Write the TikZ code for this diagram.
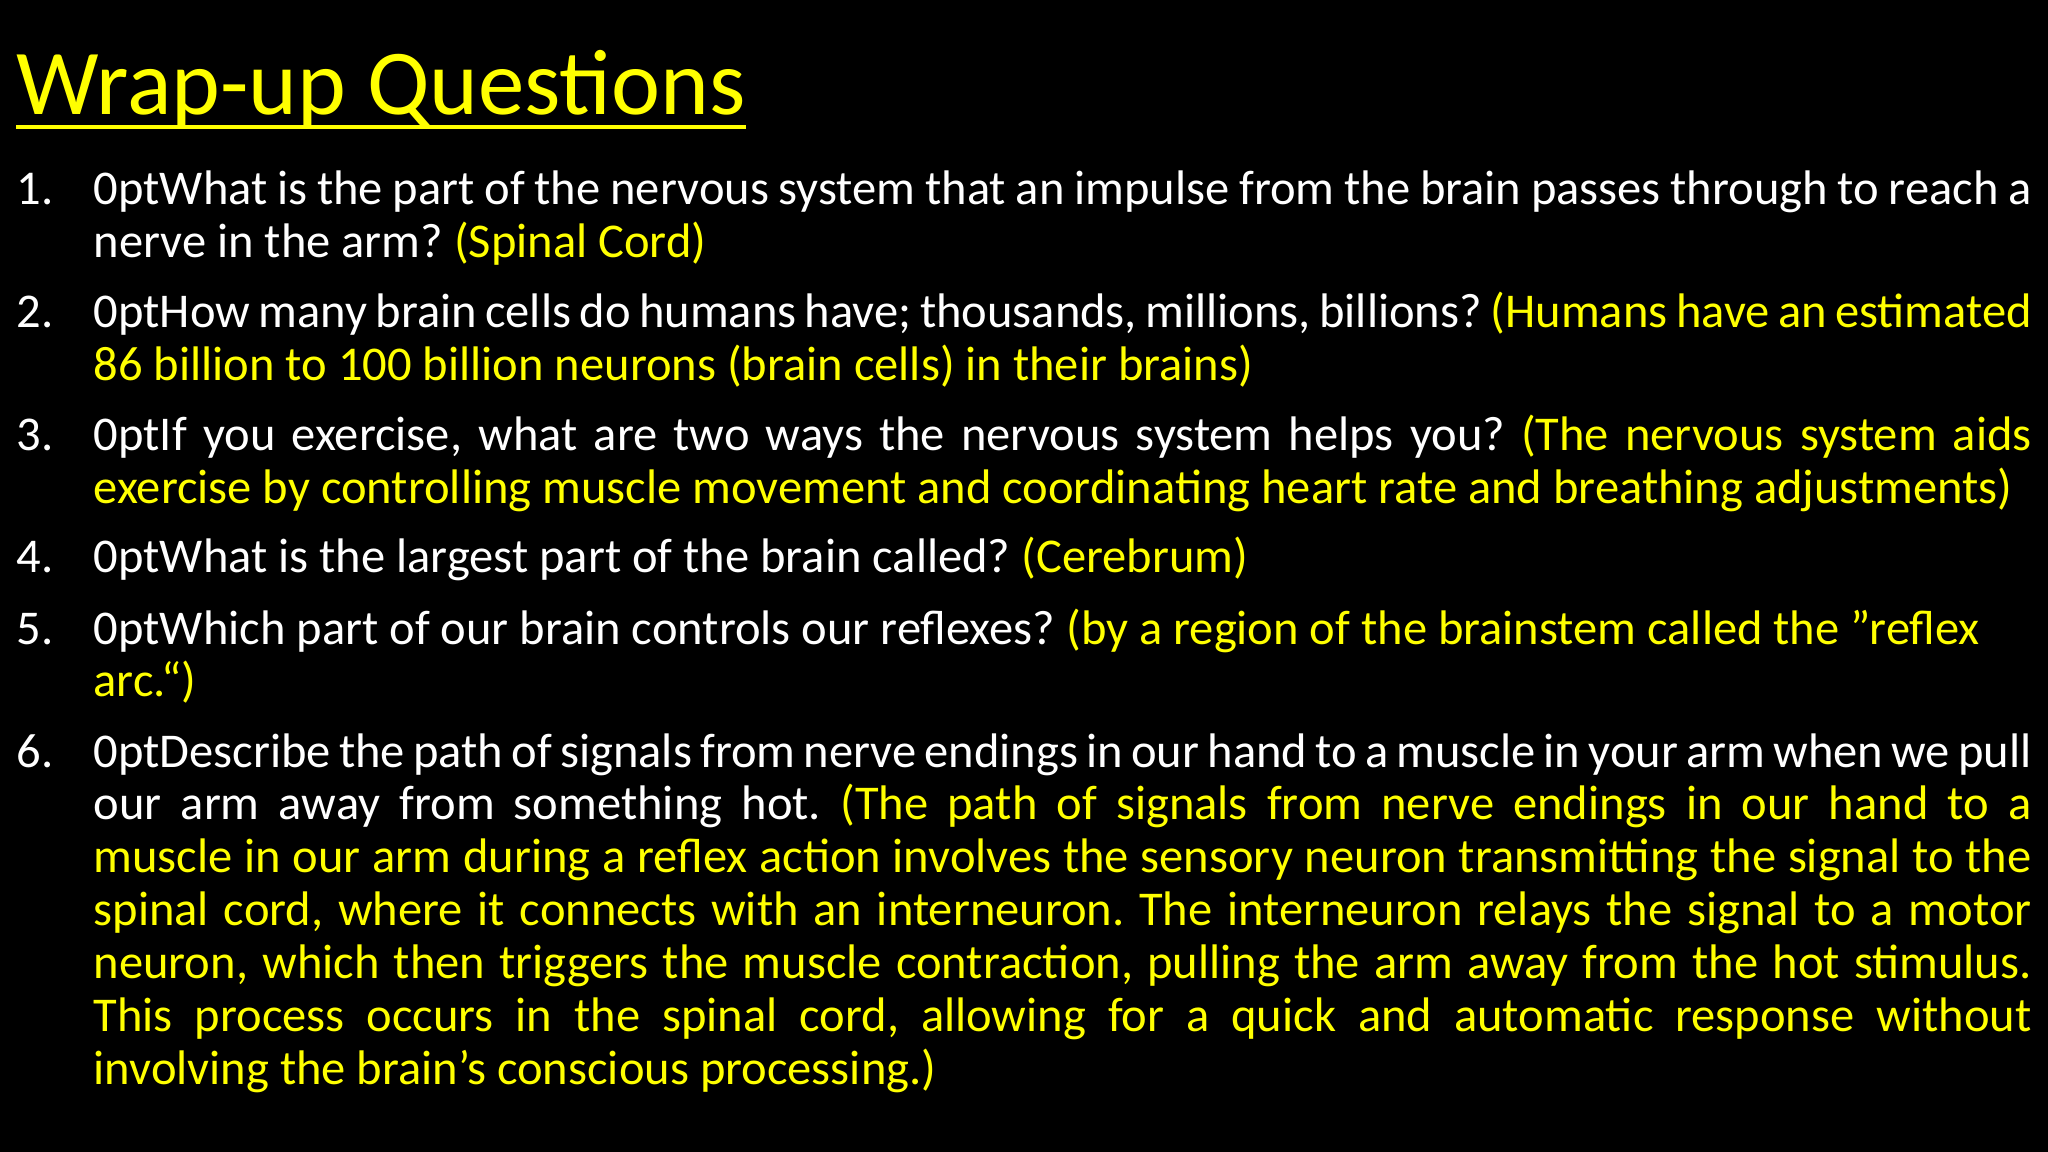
\documentclass[tikz,border=0pt]{standalone}
\usepackage{fontspec}
\setmainfont{Carlito}
\definecolor{ans}{RGB}{255,255,0}
\begin{document}
\begin{tikzpicture}[x=0.01cm,y=-0.01cm,
  num/.style={anchor=base west,inner sep=0,text=white,font=\fontsize{13.8}{15.05}\selectfont},
  item/.style={anchor=base west,inner sep=0,text=white,text width=19.37cm,align=justify,font=\fontsize{13.8}{15.05}\selectfont\frenchspacing\hyphenpenalty=10000\exhyphenpenalty=10000}]
\fill[black] (0,0) rectangle (2048,1152);
\useasboundingbox (0,0) rectangle (2048,1152);
\node[anchor=base west,inner sep=0,text=ans,font=\fontsize{26.4}{30}\selectfont] (title) at (16,115) {Wrap-up Questions};
\draw[ans,line width=1.2pt] (title.south west|-0,127) -- (title.south east|-0,127);
\foreach \n/\y in {1/205,2/328,3/451,4/573,5/644,6/767}{\node[num] (n\n) at (16,\y) {\n.};}
\node[item] (q1) at (93,205) {What is the part of the nervous system that an impulse from the brain passes through to reach a\linebreak nerve in the arm? \textcolor{ans}{(Spinal Cord)}};
\node[item] (q2) at (93,328) {How many brain cells do humans have; thousands, millions, billions? \textcolor{ans}{(Humans have an estimated\newline 86 billion to 100 billion neurons (brain cells) in their brains)}};
\node[item] (q3) at (93,451) {If you exercise, what are two ways the nervous system helps you? \textcolor{ans}{(The nervous system aids\linebreak exercise by controlling muscle movement and coordinating heart rate and breathing adjustments)}};
\node[item] (q4) at (93,573) {What is the largest part of the brain called? \textcolor{ans}{(Cerebrum)}};
\node[item] (q5) at (93,644) {Which part of our brain controls our reflexes? \textcolor{ans}{(by a region of the brainstem called the \symbol{34}reflex\newline arc.“)}};
\node[item] (q6) at (93,767) {Describe the path of signals from nerve endings in our hand to a muscle in your arm when we pull\linebreak our arm away from something hot. \textcolor{ans}{(The path of signals from nerve endings in our hand to a\linebreak muscle in our arm during a reflex action involves the sensory neuron transmitting the signal to the\linebreak spinal cord, where it connects with an interneuron. The interneuron relays the signal to a motor\linebreak neuron, which then triggers the muscle contraction, pulling the arm away from the hot stimulus.\linebreak This process occurs in the spinal cord, allowing for a quick and automatic response without\linebreak involving the brain\symbol{39}s conscious processing.)}};
\end{tikzpicture}
\end{document}
